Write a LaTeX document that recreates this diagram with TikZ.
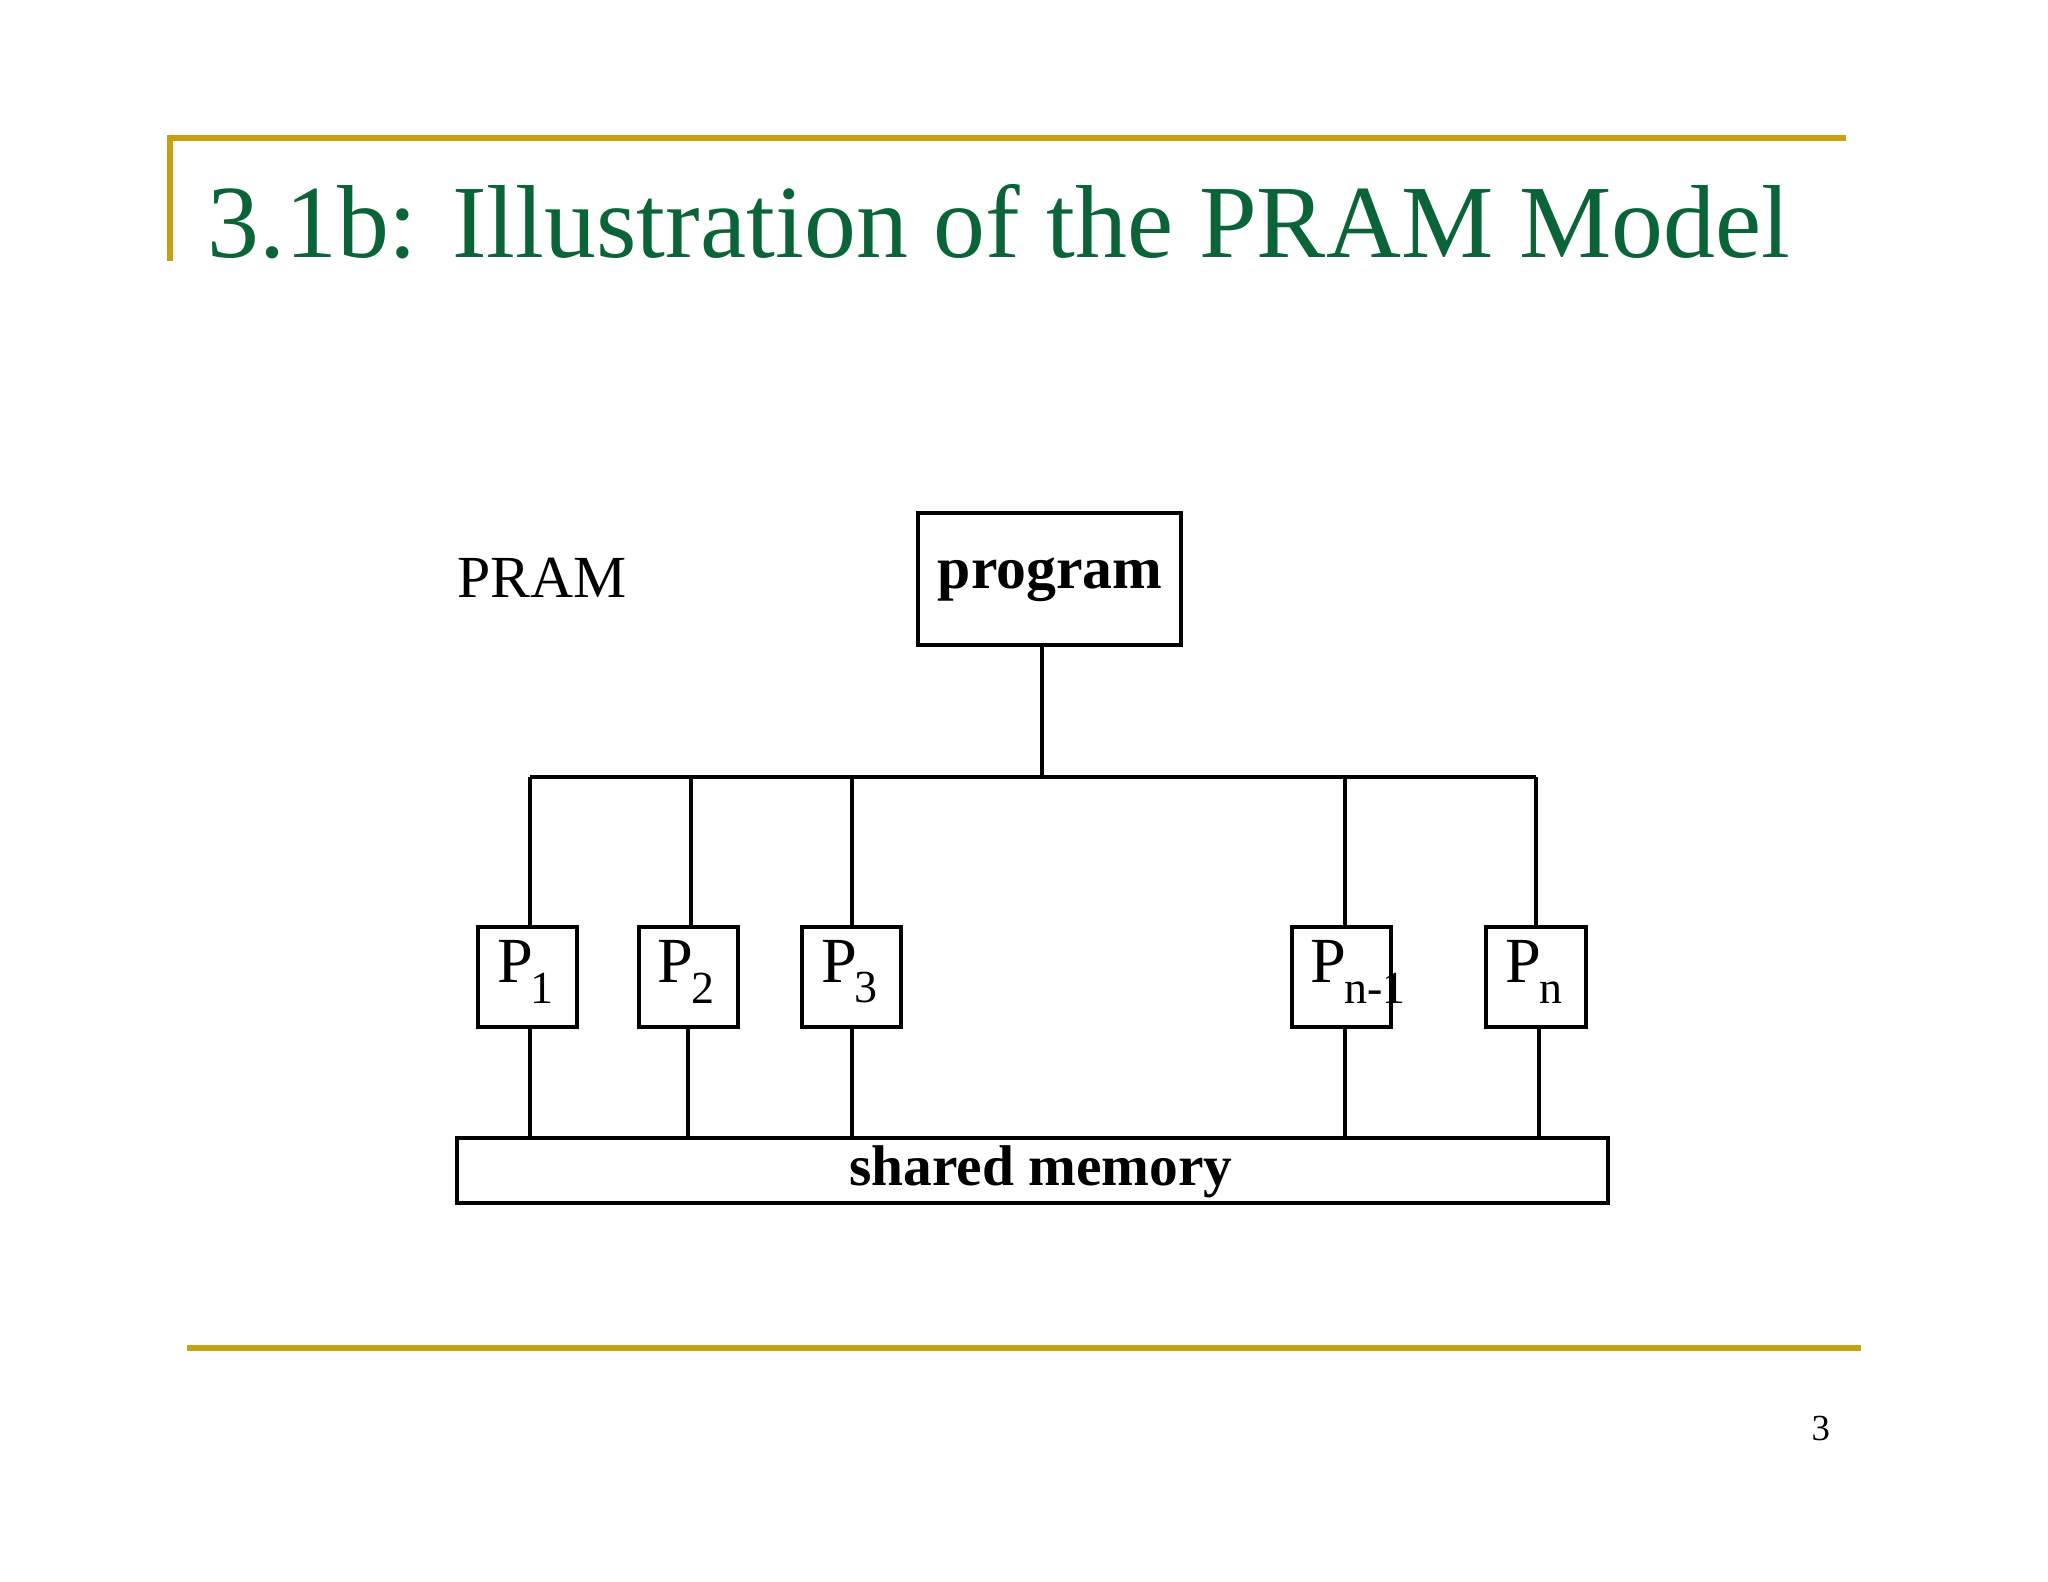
\documentclass[tikz,border=0pt]{standalone}
\usepackage{fontspec}
\setmainfont{Liberation Serif}
\definecolor{gold}{RGB}{200,160,20}
\definecolor{tgreen}{RGB}{10,100,55}
\newcommand{\psub}[1]{P\kern-0.5pt\raisebox{-0.7ex}{\fontsize{10}{11}\selectfont #1}}
\begin{document}
\begin{tikzpicture}[x=0.01cm,y=-0.01cm,
  wire/.style={line width=0.9pt},
  rule/.style={draw=gold,line width=1.3pt}]
\useasboundingbox (0,0) rectangle (1568,1211);
\draw[rule] (130,200) -- (130,106) -- (1413,106);
\draw[rule] (143,1032) -- (1425,1032);
\node[anchor=base west,text=tgreen,font=\fontsize{22.6}{26}\selectfont,inner sep=0] (title) at (158,197) {3.1b: Illustration of the PRAM Model};
\node[font=\fontsize{8}{10}\selectfont] (num) at (1394,1094) {3};
\node[font=\fontsize{13}{15}\selectfont] (pram) at (415,442) {PRAM};
\draw[wire] (703,393) rectangle (904,494);
\node[font=\fontsize{13}{15}\selectfont\bfseries] (progt) at (804,444) {program};
\coordinate (pb) at (798,494);
\coordinate (bj) at (798,595);
\draw[wire] (pb) -- (bj);
\draw[wire] (406,595) -- (1176,595);
\draw[wire] (350,871) rectangle (1231,921);
\node[font=\fontsize{12.5}{15}\selectfont\bfseries] (mem) at (797,897) {shared memory};
\foreach \n/\xl/\xt/\xb/\s in {p1/366/406/406/1, p2/489/529/527/2, p3/614/652/652/3, pn1/989/1030/1030/n-1, pn/1138/1176/1178/n}{
  \draw[wire] (\xl,710) rectangle ++(76,76);
  \node[font=\fontsize{14}{17}\selectfont,anchor=west,inner sep=0] (\n) at (\xl+14,744) {\psub{\s}};
  \draw[wire] (\xt,595) -- (\xt,710);
  \draw[wire] (\xb,786) -- (\xb,871);
}
\end{tikzpicture}
\end{document}
